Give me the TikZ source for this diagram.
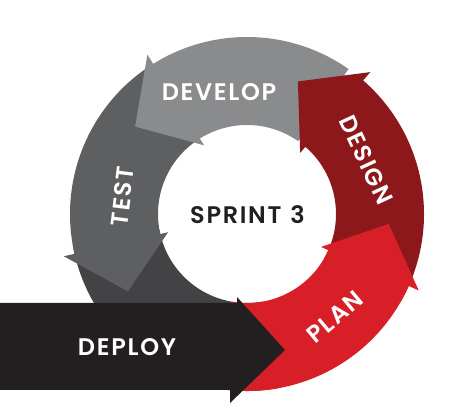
\documentclass[tikz,border=0pt]{standalone}
\usepackage{fontspec}
\setmainfont{Poppins}[LetterSpace=7, BoldFont={Poppins SemiBold}]
\definecolor{develop}{HTML}{8A8B8D}
\definecolor{test}{HTML}{5E5F61}
\definecolor{dgrey}{HTML}{434345}
\definecolor{deploy}{HTML}{231F20}
\definecolor{plan}{HTML}{D81F27}
\definecolor{design}{HTML}{8C181C}
\tikzset{lbl/.style={text=white, font=\bfseries\fontsize{24}{24}\selectfont, inner sep=0pt}}
% colour, start of band, barbs, tip
\newcommand{\ringarrow}[4]{%
	\fill[#1] (#2:177) arc[start angle=#2, end angle=#3, radius=177] -- (#3:188) -- (#4:142)
		-- (#3:81) -- (#3:89) arc[start angle=#3, end angle=#2, radius=89] -- cycle;}
\begin{document}
\begin{tikzpicture}[x=1pt, y=1pt]
	\useasboundingbox (0,0) rectangle (474,414);
	\begin{scope}[shift={(247,200)}]
		\fill[dgrey] (190:177) arc[start angle=190, end angle=280, radius=177]
			-- (280:89) arc[start angle=280, end angle=190, radius=89] -- cycle;
		\ringarrow{test}{125}{193}{213}
		\ringarrow{develop}{55}{122}{142}
		\ringarrow{design}{-30}{49}{69}
		\ringarrow{plan}{260}{336}{356}
	\end{scope}
	\fill[deploy] (0,111) -- (237,111) -- (237,117) -- (285,64) -- (230,11) -- (230,24) -- (0,24) -- cycle;
	\node[lbl] (develop) at (219,321.5) {DEVELOP};
	\node[lbl, rotate=83] (test) at (122.5,217.5) {TEST};
	\node[lbl, rotate=-65] (design) at (366,254) {DESIGN};
	\node[lbl, rotate=40] (plan) at (335,97) {PLAN};
	\node[lbl] (deploy) at (127,66.5) {DEPLOY};
	\node[lbl, text=deploy] (sprint) at (247.5,199) {SPRINT\hspace{9pt}3};
\end{tikzpicture}
\end{document}
